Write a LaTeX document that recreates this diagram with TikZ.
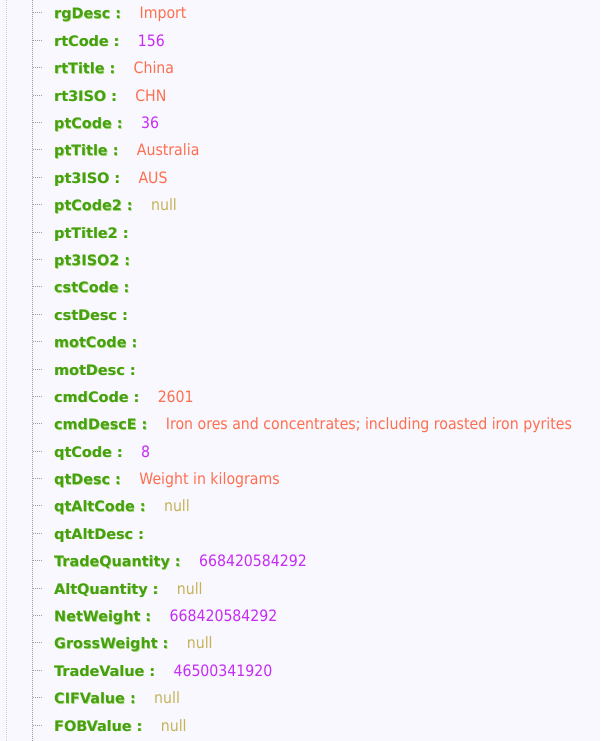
\documentclass[tikz,border=0pt]{standalone}
\usepackage{fontspec}
\newfontfamily\keyfont{DejaVu Sans}
\newfontfamily\valfont{DejaVu Sans}[FakeStretch=0.9]
\definecolor{bgcol}{HTML}{F8F8FE}
\definecolor{keygreen}{HTML}{47A010}
\definecolor{keyshadow}{HTML}{A8DC7A}
\definecolor{strcol}{HTML}{FF6E4E}
\definecolor{numcol}{HTML}{C62CF5}
\definecolor{nullcol}{HTML}{C4B255}
\definecolor{treedark}{HTML}{9A9A9A}
\definecolor{treelight}{HTML}{CFCFCF}
\tikzset{
  keystyle/.style={anchor=base west, inner sep=0pt, text=keygreen,
    font=\keyfont\bfseries\fontsize{14.4}{17}\selectfont},
  keyshade/.style={keystyle, text=keyshadow},
  valbase/.style={anchor=base west, inner sep=0pt,
    font=\valfont\fontsize{15.7}{18}\selectfont},
  vals/.style={valbase, text=strcol},
  valn/.style={valbase, text=numcol},
  valz/.style={valbase, text=nullcol},
  treeline/.style={line width=1pt, dash pattern=on 1pt off 1pt},
  stubline/.style={line width=1pt, dash pattern=on 1pt off 1pt, draw=treedark},
}
\begin{document}
\begin{tikzpicture}[x=1pt,y=-1pt]
\fill[bgcol] (0,0) rectangle (600,741);
\useasboundingbox (0,0) rectangle (600,741);
\coordinate (la) at (6,0);
\coordinate (lb) at (6,741);
\coordinate (da) at (32,0);
\coordinate (db) at (32,741);
\draw[treeline, draw=treelight] (la) -- (lb);
\draw[treeline, draw=treedark] (da) -- (db);
\foreach \k/\v/\t [count=\i from 0] in {
  rgDesc/Import/s,
  rtCode/156/n,
  rtTitle/China/s,
  rt3ISO/CHN/s,
  ptCode/36/n,
  ptTitle/Australia/s,
  pt3ISO/AUS/s,
  ptCode2/null/z,
  ptTitle2//e,
  pt3ISO2//e,
  cstCode//e,
  cstDesc//e,
  motCode//e,
  motDesc//e,
  cmdCode/2601/s,
  cmdDescE/{Iron ores and concentrates; including roasted iron pyrites}/s,
  qtCode/8/n,
  qtDesc/{Weight in kilograms}/s,
  qtAltCode/null/z,
  qtAltDesc//e,
  TradeQuantity/668420584292/n,
  AltQuantity/null/z,
  NetWeight/668420584292/n,
  GrossWeight/null/z,
  TradeValue/46500341920/n,
  CIFValue/null/z,
  FOBValue/null/z}
{
  \pgfmathsetmacro\yc{13+27.385*\i}
  \coordinate (sa\i) at (33,\yc);
  \coordinate (sb\i) at (42,\yc);
  \draw[stubline] (sa\i) -- (sb\i);
  \node[keyshade] (ks\i) at (54.6,\yc+6.6) {\k\ :};
  \node[keystyle] (k\i) at (54,\yc+6) {\k\ :};
  \if\t e\else
    \node[val\t] (v\i) at ([xshift=18pt]k\i.base east) {\v};
  \fi
}
\end{tikzpicture}
\end{document}
